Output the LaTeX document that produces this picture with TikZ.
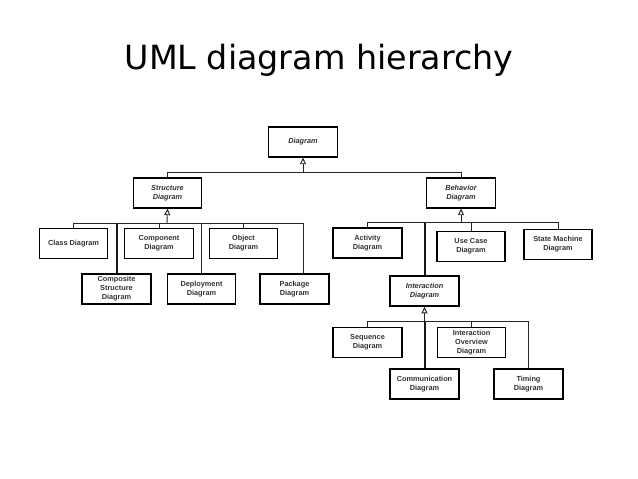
\documentclass[tikz,border=0pt]{standalone}
\usepackage{fontspec}
\setmainfont{Liberation Sans}
\newfontfamily\titlefont{DejaVu Sans}
\usetikzlibrary{arrows.meta}

\tikzset{every picture/.style={line width=0.75pt}}
\tikzset{
  umlbox/.style={draw, line width=0.8pt, fill=white, minimum width=51.5pt, minimum height=22.5pt,
    inner sep=1pt, align=center, text=black!80, font=\fontsize{5.5}{6.8}\selectfont\bfseries},
  heavybox/.style={umlbox, line width=1.3pt},
  abstractbox/.style={umlbox, font=\fontsize{5.5}{6.8}\selectfont\bfseries\itshape},
  link/.style={line width=0.7pt, draw=black!85},
  heavylink/.style={line width=1.5pt, draw=black!90},
  gen/.style={link, -{Triangle[open, length=5pt, width=4.5pt]}}
}

\begin{document}
\begin{tikzpicture}[x=0.75pt,y=0.75pt,yscale=-1,xscale=1]
\useasboundingbox (0,0) rectangle (638,478);

% Title
\node (title) at (319,60) {\titlefont\fontsize{25}{30}\selectfont UML diagram hierarchy};

% Boxes
\node [abstractbox] (diagram) at (303,142) {Diagram};
\node [abstractbox] (struct) at (167.5,193) {Structure\\Diagram};
\node [abstractbox] (behav) at (461,193) {Behavior\\Diagram};

\node [umlbox] (class) at (73.5,243.5) {Class Diagram};
\node [umlbox] (compo) at (159,243.5) {Component\\Diagram};
\node [umlbox] (object) at (243.5,243.5) {Object\\Diagram};
\node [heavybox] (composite) at (116.5,289) {Composite\\Structure\\Diagram};
\node [umlbox] (deploy) at (201.5,289) {Deployment\\Diagram};
\node [heavybox] (package) at (294.5,289) {Package\\Diagram};

\node [heavybox] (activity) at (367.5,243) {Activity\\Diagram};
\node [heavybox] (usecase) at (471,246.5) {Use Case\\Diagram};
\node [heavybox] (state) at (558,244.5) {State Machine\\Diagram};
\node [abstractbox, line width=1.1pt] (interact) at (424.5,291) {Interaction\\Diagram};

\node [heavybox] (seq) at (367.5,342.5) {Sequence\\Diagram};
\node [umlbox] (overview) at (471.5,342.5) {Interaction\\Overview\\Diagram};
\node [heavybox] (comm) at (424.5,384) {Communication\\Diagram};
\node [heavybox] (timing) at (528.5,384) {Timing\\Diagram};

% Buses
\coordinate (dbus) at (303,172);
\coordinate (sbus) at (167,223);
\coordinate (bbus) at (461,222);
\coordinate (ibus) at (424.5,321);

% Diagram level
\draw [link] (struct.north) |- (dbus);
\draw [link] (behav.north) |- (dbus);
\draw [gen] (dbus) -- (diagram.south);

% Structure level
\draw [link] (class.north) |- (sbus);
\draw [link] (compo.north) |- (sbus);
\draw [link] (object.north) |- (sbus);
\draw [link] (deploy.north) |- (sbus);
\draw [link] ([xshift=6.4pt]package.north) |- (sbus);
\draw [heavylink] (composite.north) -- (composite.north |- sbus);
\draw [gen] (sbus) -- (struct.south);

% Behavior level
\draw [link] (activity.north) |- (bbus);
\draw [link] (usecase.north) |- (bbus);
\draw [link] (state.north) |- (bbus);
\draw [heavylink] (interact.north) -- (interact.north |- bbus);
\draw [link] (interact.north |- bbus) -- (bbus);
\draw [gen] (bbus) -- (behav.south);

% Interaction level
\draw [link] (seq.north) |- (ibus);
\draw [link] (overview.north) |- (ibus);
\draw [link] (timing.north) |- (ibus);
\draw [heavylink] (comm.north) -- (ibus);
\draw [gen] (ibus) -- (interact.south);

\end{tikzpicture}
\end{document}
